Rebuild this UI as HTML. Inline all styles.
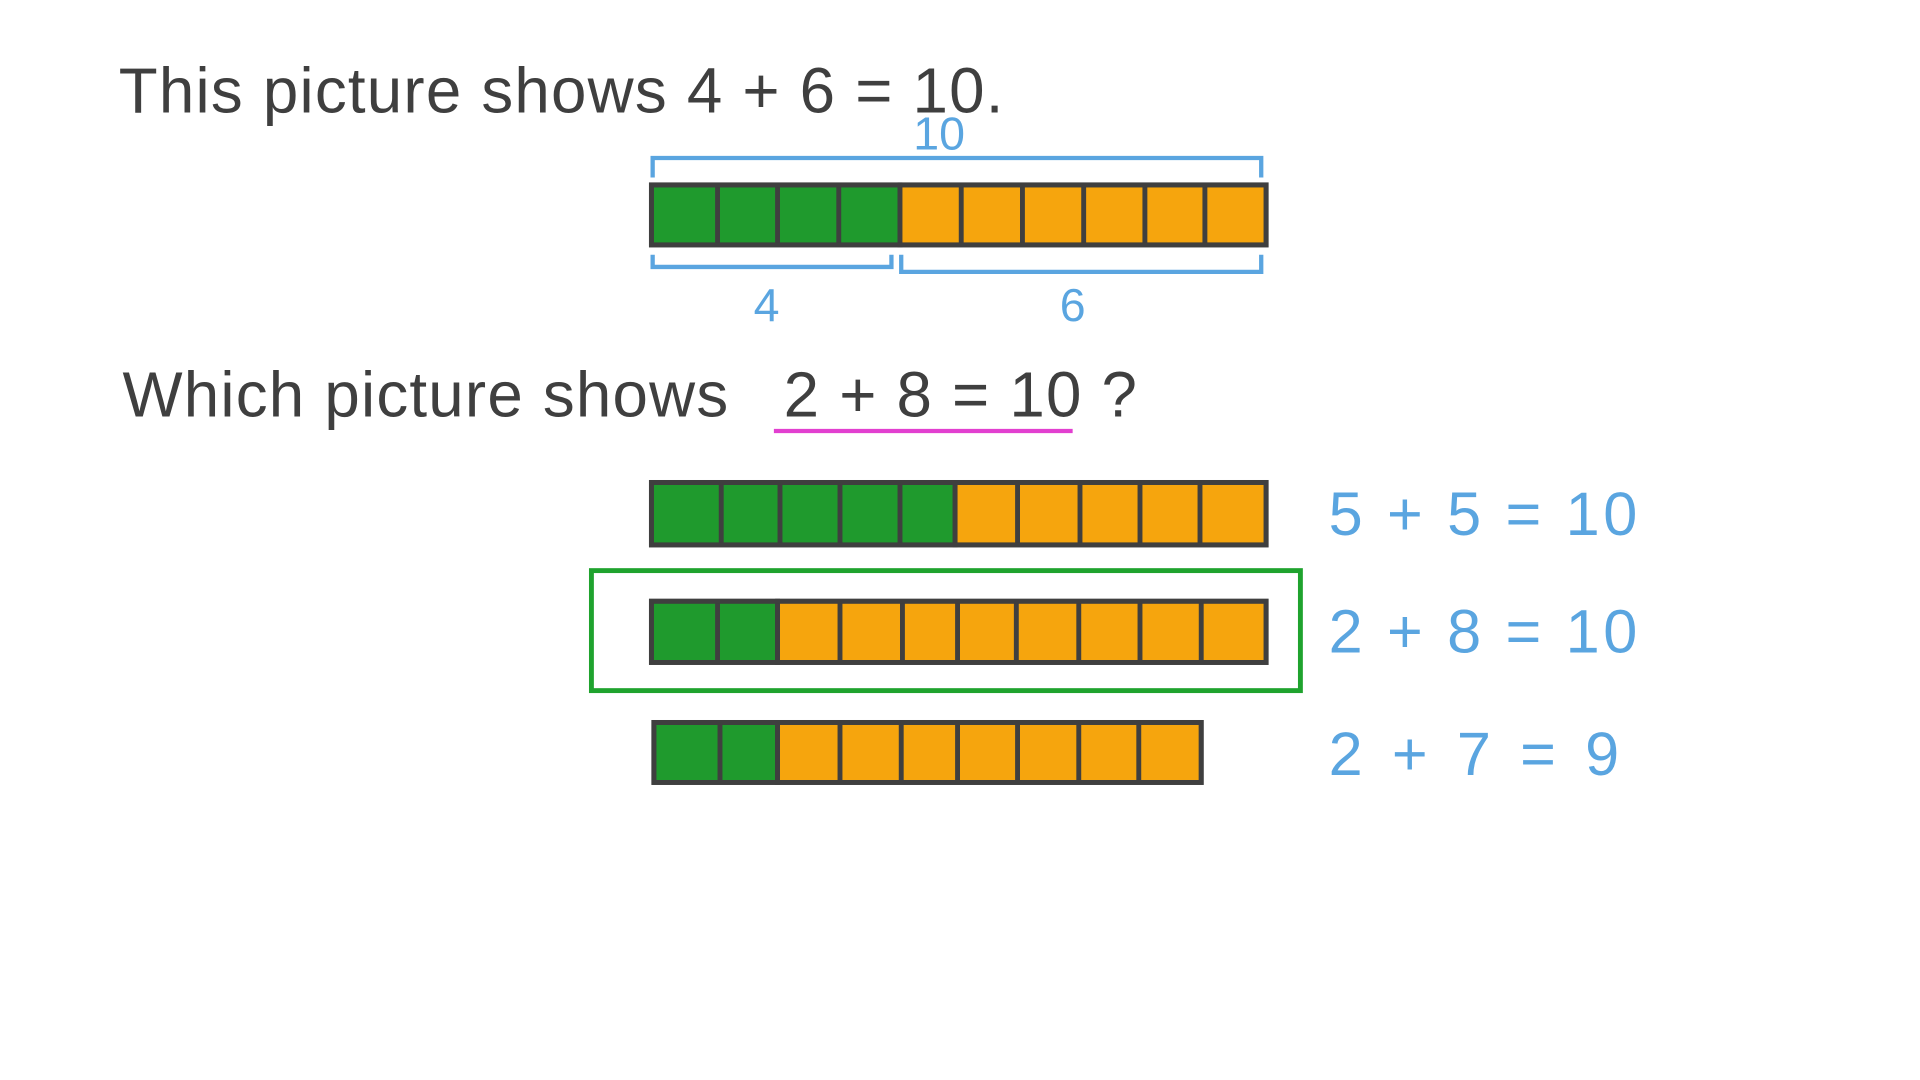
<!DOCTYPE html>
<html><head><meta charset="utf-8"><style>
html,body{margin:0;padding:0;background:#fff;width:1920px;height:1080px;overflow:hidden}
svg{display:block}
text{font-family:"Liberation Sans",sans-serif}
</style></head><body>
<svg width="1920" height="1080" viewBox="0 0 1568 882" xmlns="http://www.w3.org/2000/svg">
<rect width="1568" height="882" fill="#fff"/>
<g fill="#3f3f3f" font-size="52">
<text x="97" y="92" letter-spacing="1">This picture shows 4 + 6 = 10.</text>
<text x="100" y="340" letter-spacing="1">Which picture shows</text>
<text x="640" y="340" letter-spacing="1">2 + 8 = 10 ?</text>
</g>
<line x1="632" y1="352" x2="876" y2="352" stroke="#e23fd0" stroke-width="3.5"/>
<g stroke="#5aa5e0" stroke-width="3.5" fill="none">
<path d="M533 145 V129 H1030 V145"/>
<path d="M533 208 V218 H728 V208"/>
<path d="M736 208 V222 H1030 V208"/>
</g>
<g fill="#5aa5e0" font-size="38" text-anchor="middle">
<text x="767" y="122">10</text>
<text x="626" y="262">4</text>
<text x="876" y="262">6</text>
</g>
<g stroke="#3f3f3f" stroke-width="4">
<g>
<rect x="532" y="151" width="203" height="49" fill="#1f9a2d"/>
<rect x="735" y="151" width="299" height="49" fill="#f6a50d"/>
<path d="M586 151V200M635 151V200M685 151V200M785 151V200M835 151V200M885 151V200M935 151V200M984 151V200"/>
<rect x="532" y="151" width="502" height="49" fill="none"/>
</g>
<g>
<rect x="532" y="394" width="248" height="51" fill="#1f9a2d"/>
<rect x="780" y="394" width="254" height="51" fill="#f6a50d"/>
<path d="M589 394V445M637 394V445M686 394V445M735 394V445M831 394V445M882 394V445M931 394V445M980 394V445"/>
<rect x="532" y="394" width="502" height="51" fill="none"/>
</g>
<g>
<rect x="532" y="491" width="103" height="50" fill="#1f9a2d"/>
<rect x="635" y="491" width="399" height="50" fill="#f6a50d"/>
<path d="M586 491V541M686 491V541M737 491V541M782 491V541M830 491V541M881 491V541M931 491V541M981 491V541"/>
<rect x="532" y="491" width="502" height="50" fill="none"/>
</g>
<g>
<rect x="534" y="590" width="101" height="49" fill="#1f9a2d"/>
<rect x="635" y="590" width="346" height="49" fill="#f6a50d"/>
<path d="M588 590V639M686 590V639M736 590V639M782 590V639M831 590V639M881 590V639M930 590V639"/>
<rect x="534" y="590" width="447" height="49" fill="none"/>
</g>
</g>
<rect x="483" y="466" width="579" height="98" fill="none" stroke="#1fa32e" stroke-width="4"/>
<g fill="#5aa5e0" font-size="50">
<text x="1085" y="437" letter-spacing="3">5 + 5 = 10</text>
<text x="1085" y="533" letter-spacing="3">2 + 8 = 10</text>
<text x="1085" y="633" letter-spacing="5">2 + 7 = 9</text>
</g>
</svg>
</body></html>
